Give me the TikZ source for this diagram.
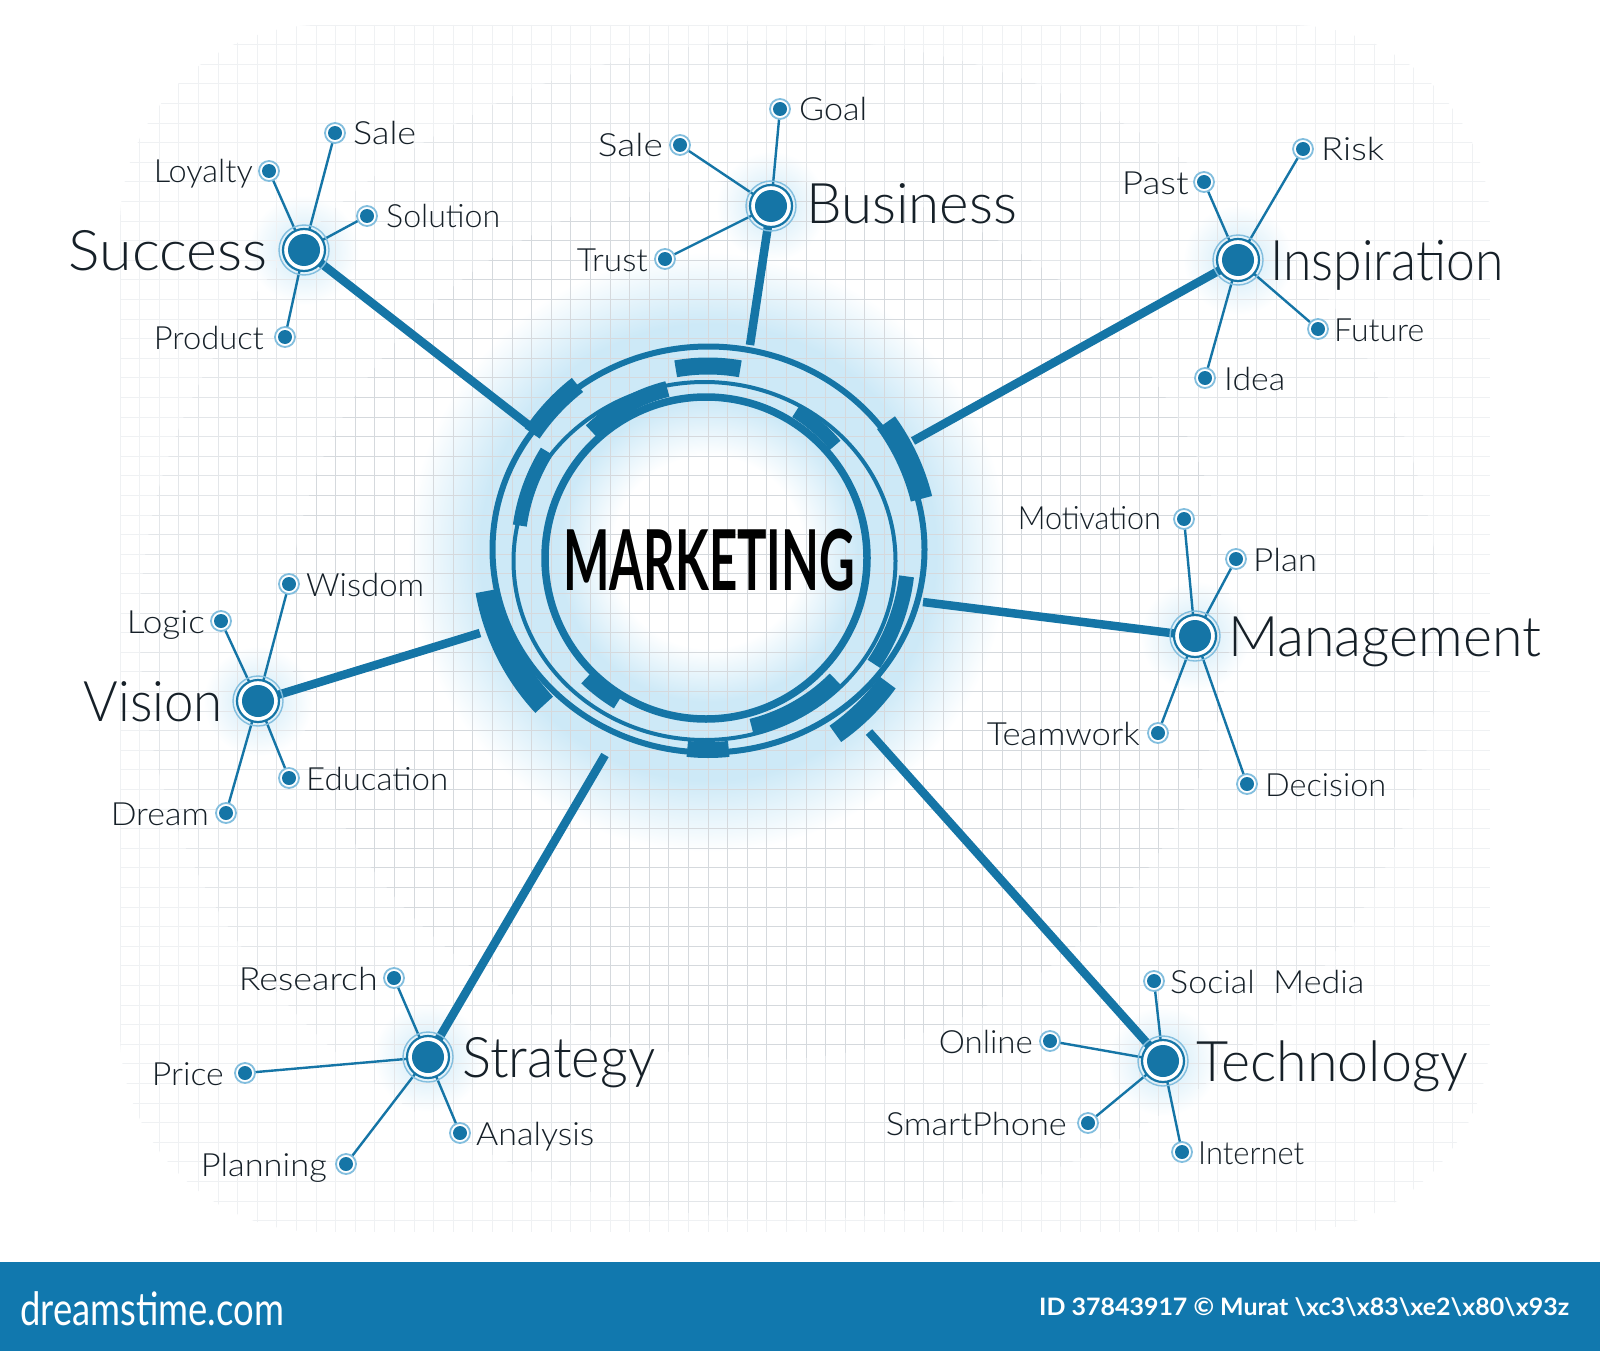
\documentclass[tikz,border=0pt]{standalone}
\usepackage{fontspec}
\usepackage{graphicx}
\setmainfont{Lato}
\IfFontExistsTF{Lato Light}{\newfontfamily\lightfont{Lato Light}}{\newfontfamily\lightfont{Lato}}
\usetikzlibrary{calc}
\definecolor{mblue}{RGB}{21,117,166}
\definecolor{bannerc}{RGB}{17,120,174}
\definecolor{mlight}{RGB}{130,190,222}
\definecolor{glow}{RGB}{205,233,247}
\definecolor{txt}{RGB}{22,32,40}
\definecolor{gridf}{RGB}{239,241,243}
\definecolor{gridc}{RGB}{227,230,233}
\definecolor{gridd}{RGB}{213,217,221}
\pgfdeclarelayer{bg}
\pgfdeclarelayer{lines}
\pgfsetlayers{bg,lines,main}
\pgfdeclareradialshading{halo}{\pgfpointorigin}{color(0bp)=(white); color(8bp)=(white); color(12.5bp)=(glow); color(19bp)=(glow); color(25bp)=(white); color(50bp)=(white)}
\newcommand{\fitw}[2]{\resizebox{#1pt}{\height}{#2}}
\newcommand{\gridlines}[1]{%
  \foreach \i in {0,...,70} \draw[#1, line width=0.8pt] ({120+\i*19.6},25) -- ({120+\i*19.6},1232);
  \foreach \j in {0,...,62} \draw[#1, line width=0.8pt] (120,{25+\j*19.6}) -- (1490,{25+\j*19.6});}
\tikzset{
 leaf/.style={circle, inner sep=0pt, minimum size=20pt, fill=white, draw=mlight, line width=1.8pt,
   path picture={\fill[mblue] (path picture bounding box.center) circle[radius=7];}},
 hub/.style={circle, inner sep=0pt, minimum size=42pt, fill=white, draw=mblue, line width=2.2pt,
   path picture={\fill[mblue] (path picture bounding box.center) circle[radius=16];}},
 spoke/.style={draw=mblue, line width=8.5pt},
 twig/.style={draw=mblue, line width=2.4pt},
 hubring/.style={draw=mlight, line width=1.4pt},
 big/.style={inner sep=0pt, text=txt, font=\lightfont\fontsize{56}{56}\selectfont},
 small/.style={inner sep=0pt, text=txt, font=\lightfont\fontsize{32}{32}\selectfont},
 bannertxt/.style={inner sep=0pt, text=white},
}
\begin{document}
\begin{tikzpicture}[x=1pt,y=-1pt]
\useasboundingbox (0,0) rectangle (1600,1351);
% ---------------- background ----------------
\begin{pgfonlayer}{bg}
\fill[white] (0,0) rectangle (1600,1351);
\shade[shading=halo] (708,552) circle[radius=300];
\foreach \p in {(304,250),(771,206),(1238,260),(1195,636),(258,701),(428,1057),(1163,1061)}
  \shade[inner color=glow, outer color=white] \p circle[radius=55];
\begin{scope}
\clip[rounded corners=200pt] (120,25) rectangle (1490,1232);
\gridlines{gridf}
\end{scope}
\begin{scope}
\clip (790,630) ellipse[x radius=650, y radius=590];
\gridlines{gridc}
\end{scope}
\begin{scope}
\clip (760,620) ellipse[x radius=470, y radius=440];
\gridlines{gridd}
\end{scope}
\end{pgfonlayer}
% ---------------- central ring ----------------
\draw[mblue, line width=6pt] (708.5,549.5) ellipse[x radius=216, y radius=203];
\draw[mblue, line width=4pt] (704.5,561) ellipse[x radius=191, y radius=179];
\draw[mblue, line width=7.5pt] (706,558) circle[radius=161];
\foreach \a/\b/\r/\w in {80/100/186/17, 128/146/212/18, 148/172/190/14, 104/134/168/16, 40/58/166/14, 14/36/220/22, -34/-7/200/15, -55/-36/222/20, -76/-45/180/16, -96/-84/198/16, 226/239/175/15, 190/223/224/24}
  \draw[mblue, line width=\w pt] (708,552) ++({-\a}:\r) arc[start angle={-\a}, end angle={-\b}, radius=\r];
\node[inner sep=0pt, text={RGB:red,34;green,34;blue,34}, font=\fontsize{84}{84}\selectfont\bfseries, anchor=base] (mk) at (709,590) {\fitw{292}{MARKETING}};
% ring coordinates for spokes
\coordinate (rS) at (531,427);
\coordinate (rB) at (750,345);
\coordinate (rI) at (913,441);
\coordinate (rM) at (923,602);
\coordinate (rV) at (480,633);
\coordinate (rT) at (605,755);
\coordinate (rH) at (869,732);
% ---------------- hubs ----------------
\node[hub] (S) at (304,250) {};
\node[hub] (B) at (771,206) {};
\node[hub] (I) at (1238,260) {};
\node[hub] (M) at (1195,636) {};
\node[hub] (V) at (258,701) {};
\node[hub] (T) at (428,1057) {};
\node[hub] (H) at (1163,1061) {};
\foreach \h in {S,B,I,M,V,T,H} \draw[hubring] (\h.center) circle[radius=25];
% big labels
\node[big, anchor=base east] (tS) at (268,270) {\fitw{199}{Success}};
\node[big, anchor=base west] (tB) at (806,224) {\fitw{211}{Business}};
\node[big, anchor=base west] (tI) at (1270,280) {\fitw{233}{Inspiration}};
\node[big, anchor=base west] (tM) at (1228,656) {\fitw{313}{Management}};
\node[big, anchor=base east] (tV) at (223,721) {\fitw{139}{Vision}};
\node[big, anchor=base west] (tT) at (462,1077) {\fitw{193}{Strategy}};
\node[big, anchor=base west] (tH) at (1196,1081) {\fitw{272}{Technology}};
% ---------------- leaves ----------------
% Success
\node[leaf] (S1) at (335,133) {};
\node[small, anchor=base west] (lS1) at (353,145) {\fitw{63}{Sale}};
\node[leaf] (S2) at (269,171) {};
\node[small, anchor=base east] (lS2) at (253,183) {\fitw{99}{Loyalty}};
\node[leaf] (S3) at (367,216) {};
\node[small, anchor=base west] (lS3) at (386,228) {\fitw{114}{Solution}};
\node[leaf] (S4) at (285,337) {};
\node[small, anchor=base east] (lS4) at (264,349) {\fitw{110}{Product}};
% Business
\node[leaf] (B1) at (780,109) {};
\node[small, anchor=base west] (lB1) at (799,121) {\fitw{68}{Goal}};
\node[leaf] (B2) at (680,145) {};
\node[small, anchor=base east] (lB2) at (663,157) {\fitw{65}{Sale}};
\node[leaf] (B3) at (665,259) {};
\node[small, anchor=base east] (lB3) at (648,271) {\fitw{71}{Trust}};
% Inspiration
\node[leaf] (I1) at (1303,149) {};
\node[small, anchor=base west] (lI1) at (1321,161) {\fitw{63}{Risk}};
\node[leaf] (I2) at (1204,182) {};
\node[small, anchor=base east] (lI2) at (1189,194) {\fitw{67}{Past}};
\node[leaf] (I3) at (1318,329) {};
\node[small, anchor=base west] (lI3) at (1334,341) {\fitw{90}{Future}};
\node[leaf] (I4) at (1205,378) {};
\node[small, anchor=base west] (lI4) at (1224,390) {\fitw{61}{Idea}};
% Management
\node[leaf] (M1) at (1184,519) {};
\node[small, anchor=base east] (lM1) at (1161,529) {\fitw{143}{Motivation}};
\node[leaf] (M2) at (1236,559) {};
\node[small, anchor=base west] (lM2) at (1253,571) {\fitw{64}{Plan}};
\node[leaf] (M3) at (1158,733) {};
\node[small, anchor=base east] (lM3) at (1140,745) {\fitw{153}{Teamwork}};
\node[leaf] (M4) at (1247,784) {};
\node[small, anchor=base west] (lM4) at (1265,796) {\fitw{121}{Decision}};
% Vision
\node[leaf] (V1) at (289,584) {};
\node[small, anchor=base west] (lV1) at (306,596) {\fitw{118}{Wisdom}};
\node[leaf] (V2) at (221,621) {};
\node[small, anchor=base east] (lV2) at (205,633) {\fitw{78}{Logic}};
\node[leaf] (V3) at (289,778) {};
\node[small, anchor=base west] (lV3) at (306,790) {\fitw{142}{Education}};
\node[leaf] (V4) at (226,813) {};
\node[small, anchor=base east] (lV4) at (209,825) {\fitw{98}{Dream}};
% Strategy
\node[leaf] (T1) at (394,978) {};
\node[small, anchor=base east] (lT1) at (378,990) {\fitw{139}{Research}};
\node[leaf] (T2) at (245,1073) {};
\node[small, anchor=base east] (lT2) at (224,1085) {\fitw{72}{Price}};
\node[leaf] (T3) at (460,1133) {};
\node[small, anchor=base west] (lT3) at (476,1145) {\fitw{118}{Analysis}};
\node[leaf] (T4) at (346,1164) {};
\node[small, anchor=base east] (lT4) at (327,1176) {\fitw{126}{Planning}};
% Technology
\node[leaf] (H1) at (1154,981) {};
\node[small, anchor=base west] (lH1) at (1170,993) {\fitw{194}{Social\ \ Media}};
\node[leaf] (H2) at (1050,1041) {};
\node[small, anchor=base east] (lH2) at (1033,1053) {\fitw{94}{Online}};
\node[leaf] (H3) at (1088,1123) {};
\node[small, anchor=base east] (lH3) at (1067,1135) {\fitw{181}{SmartPhone}};
\node[leaf] (H4) at (1182,1152) {};
\node[small, anchor=base west] (lH4) at (1198,1164) {\fitw{106}{Internet}};
% ---------------- connectors ----------------
\begin{pgfonlayer}{lines}
\foreach \h in {S,B,I,M,V,T,H} \draw[spoke] (\h.center) -- (r\h);
\foreach \h in {S,I,M,V,T,H} {
  \foreach \k in {1,2,3,4} \draw[twig] (\h.center) -- (\h\k.center);
}
\foreach \k in {1,2,3} \draw[twig] (B.center) -- (B\k.center);
\end{pgfonlayer}
% ---------------- banner ----------------
\fill[bannerc] (0,1262) rectangle (1600,1351);
\node[bannertxt, anchor=base west, font=\fontsize{46}{46}\selectfont] (logo) at (20,1325) {\fitw{264}{dreamstime.com}};
\node[bannertxt, anchor=base west, font=\fontsize{24}{24}\selectfont\bfseries] (credit) at (1039,1315) {\fitw{530}{ID 37843917 © Murat \textbackslash xc3\textbackslash x83\textbackslash xe2\textbackslash x80\textbackslash x93z}};
\end{tikzpicture}
\end{document}
